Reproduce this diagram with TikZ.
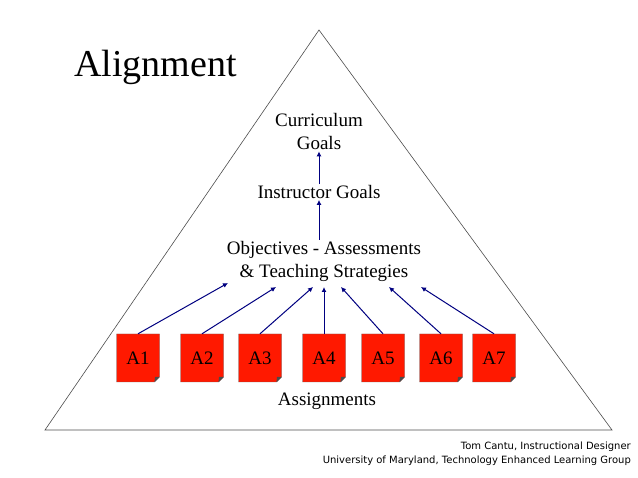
\documentclass[tikz,border=0pt]{standalone}
\usepackage{fontspec}
\usetikzlibrary{arrows.meta}
\setmainfont{LiberationSerif-Regular.ttf}
\newfontfamily\footfont{DejaVu Sans}
\begin{document}
\begin{tikzpicture}[x=1pt,y=-1pt,
  abox/.style={minimum width=43pt,minimum height=48pt,inner sep=0pt,font=\fontsize{19}{19}\selectfont},
  txt/.style={font=\fontsize{19}{23}\selectfont,align=center,inner sep=1pt},
  arr/.style={draw=blue!50!black,line width=1pt,-{Latex[length=5pt,width=5pt]}}]
\useasboundingbox (0,0) rectangle (638,478);
\draw[black!70,line width=0.6pt] (319,30) -- (45,430) -- (612,430) -- cycle;
\node[anchor=base west,font=\fontsize{38}{38}\selectfont,inner sep=0pt] (title) at (74,77) {Alignment};
\node[txt] (cg) at (319,132) {Curriculum\\Goals};
\node[txt] (ig) at (319,192) {Instructor Goals};
\node[txt] (ob) at (324,261) {Objectives - Assessments\\\& Teaching Strategies};
\node[txt] (as) at (327,401) {Assignments};
\draw[arr] (ig.north) -- (cg.south);
\draw[arr] (ob.north -| ig) -- (ig.south);
\foreach \n/\x in {1/138,2/202,3/260,4/324,5/383,6/441,7/494}{
  \fill[red!80!orange,draw=black!60] (\x-21.5,334) -- (\x+21.5,334) -- (\x+21.5,377) -- (\x+16.5,382) -- (\x-21.5,382) -- cycle;
  \fill[black!70] (\x+21.5,377) -- (\x+16.5,382) -- (\x+17,377) -- cycle;
  \node[abox] (a\n) at (\x,358) {A\n};
}
\coordinate (e1) at (228,283);\coordinate (e2) at (276,287);\coordinate (e3) at (313,287);
\coordinate (e4) at (324,287);\coordinate (e5) at (341,287);\coordinate (e6) at (389,287);\coordinate (e7) at (421,287);
\foreach \n in {1,...,7}{\draw[arr] (a\n.north) -- (e\n);}
\node[anchor=east,font=\footfont\fontsize{10}{12}\selectfont,align=right,inner sep=0pt] (cr) at (631,454) {Tom Cantu, Instructional Designer\\[2pt]University of Maryland, Technology Enhanced Learning Group};
\end{tikzpicture}
\end{document}
